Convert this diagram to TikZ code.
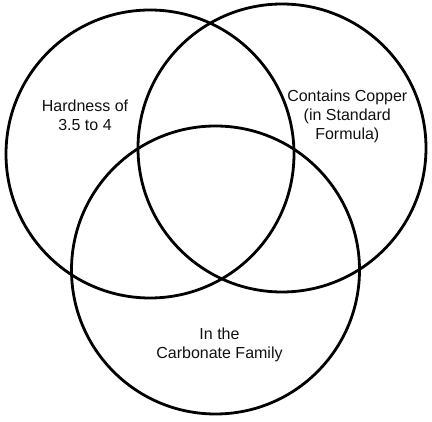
\documentclass[tikz,border=0pt]{standalone}
\usepackage{fontspec}
\setmainfont{Liberation Sans}
\usepackage{xcolor}
\usetikzlibrary{positioning}
\definecolor{ringBlack}{HTML}{000000}
\definecolor{labelText}{HTML}{111111}

\begin{document}
\begin{tikzpicture}[x=1pt, y=-1pt,
    every node/.style={font=\fontsize{16}{19}\selectfont},
    vennset/.style={circle, draw=ringBlack, line width=2.8pt, inner sep=0pt, minimum size=288pt},
    setlabel/.style={align=center, inner sep=0pt, color=labelText}]
  \useasboundingbox (0,0) rectangle (432,422);
  % the three sets
  \node[vennset] (hardness) at (150,154) {};
  \node[vennset] (copper) at (282,148) {};
  \node[vennset] (carbonate) at (215.5,270) {};
  % set labels
  \node[setlabel] (hardnessText) at (85,115.5) {Hardness of\\3.5 to 4};
  \node[setlabel] (copperText) at (347.3,116.7) {Contains Copper\\(in Standard\\Formula)};
  \node[setlabel] (carbonateText) at (219.5,344.6) {In the\\Carbonate Family};
\end{tikzpicture}
\end{document}
